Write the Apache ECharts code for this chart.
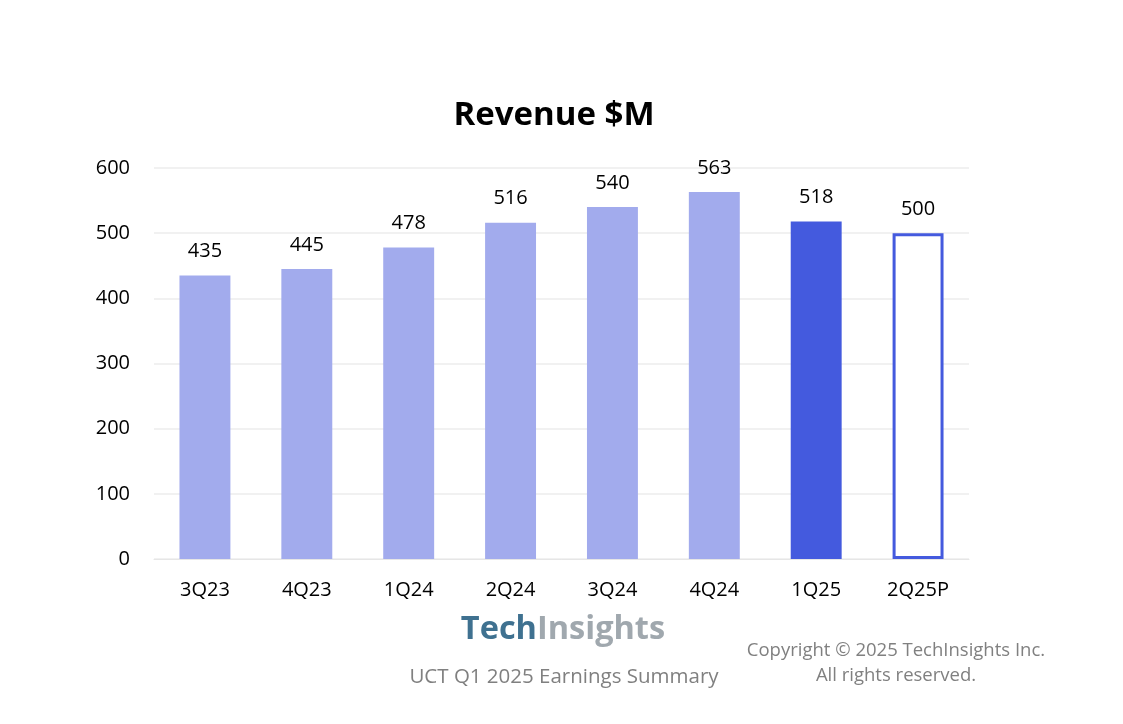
<!DOCTYPE html>
<html><head><meta charset="utf-8">
<script src="https://cdn.jsdelivr.net/npm/echarts@6/dist/echarts.min.js"></script>
<style>html,body{margin:0;padding:0;background:#fff}#c{width:1123px;height:724px}</style>
</head><body><div id="c"></div>
<script>
const categories = ['3Q23','4Q23','1Q24','2Q24','3Q24','4Q24','1Q25','2Q25P'];
const revenue = [435,445,478,516,540,563,518,500];
const yTicks = [0,100,200,300,400,500,600];

const FONT = '"Open Sans", "Noto Sans", sans-serif';
const light = '#a2abed', dark = '#445ade';
const data = revenue.map((v,i)=>{
  if (i === 6) return {value:v, itemStyle:{color:dark}};
  if (i === 7) return {value:v, itemStyle:{color:'#fff', borderColor:dark, borderWidth:3}};
  return {value:v, itemStyle:{color:light}};
});
const chart = echarts.init(document.getElementById('c'));
chart.setOption({
  animation:false,
  title:{text:'Revenue $M', left:549, textAlign:'center', top:94,
    textStyle:{fontFamily:FONT, fontWeight:'bold', fontSize:33, color:'#000'}},
  grid:{left:154, right:154, top:168, bottom:165},
  xAxis:{type:'category', data:categories,
    axisLine:{show:true, lineStyle:{color:'#e6e6e6'}}, axisTick:{show:false},
    axisLabel:{fontFamily:FONT, fontSize:20, color:'#000', margin:21}},
  yAxis:{type:'value', min:0, max:600, interval:100,
    axisLine:{show:false}, axisTick:{show:false},
    splitLine:{lineStyle:{color:'#ececec', width:1.5}},
    axisLabel:{fontFamily:FONT, fontSize:20, color:'#000', margin:24,
      formatter:v=>yTicks.includes(v)?String(v):''}},
  series:[{type:'bar', data:data, barWidth:'50%',
    label:{show:true, position:'top', distance:14, fontFamily:FONT, fontSize:20, color:'#000'}}],
  graphic:[
    {type:'text', x:563, y:630, style:{
      text:'{a|Tech}{b|Insights}', align:'center', verticalAlign:'middle',
      rich:{a:{fontFamily:FONT, fontWeight:'bold', fontSize:32.5, fill:'#3f7190'},
            b:{fontFamily:FONT, fontWeight:'bold', fontSize:32.5, fill:'#a0a8ae'}}}},
    {type:'text', x:564, y:677, style:{text:'UCT Q1 2025 Earnings Summary', align:'center', verticalAlign:'middle',
      fontFamily:FONT, fontSize:20.5, fill:'#808080'}},
    {type:'text', x:896, y:651, style:{text:'Copyright © 2025 TechInsights Inc.', align:'center', verticalAlign:'middle',
      fontFamily:FONT, fontSize:18.5, fill:'#808080'}},
    {type:'text', x:896, y:676, style:{text:'All rights reserved.', align:'center', verticalAlign:'middle',
      fontFamily:FONT, fontSize:18.5, fill:'#808080'}}
  ]
});
</script></body></html>
